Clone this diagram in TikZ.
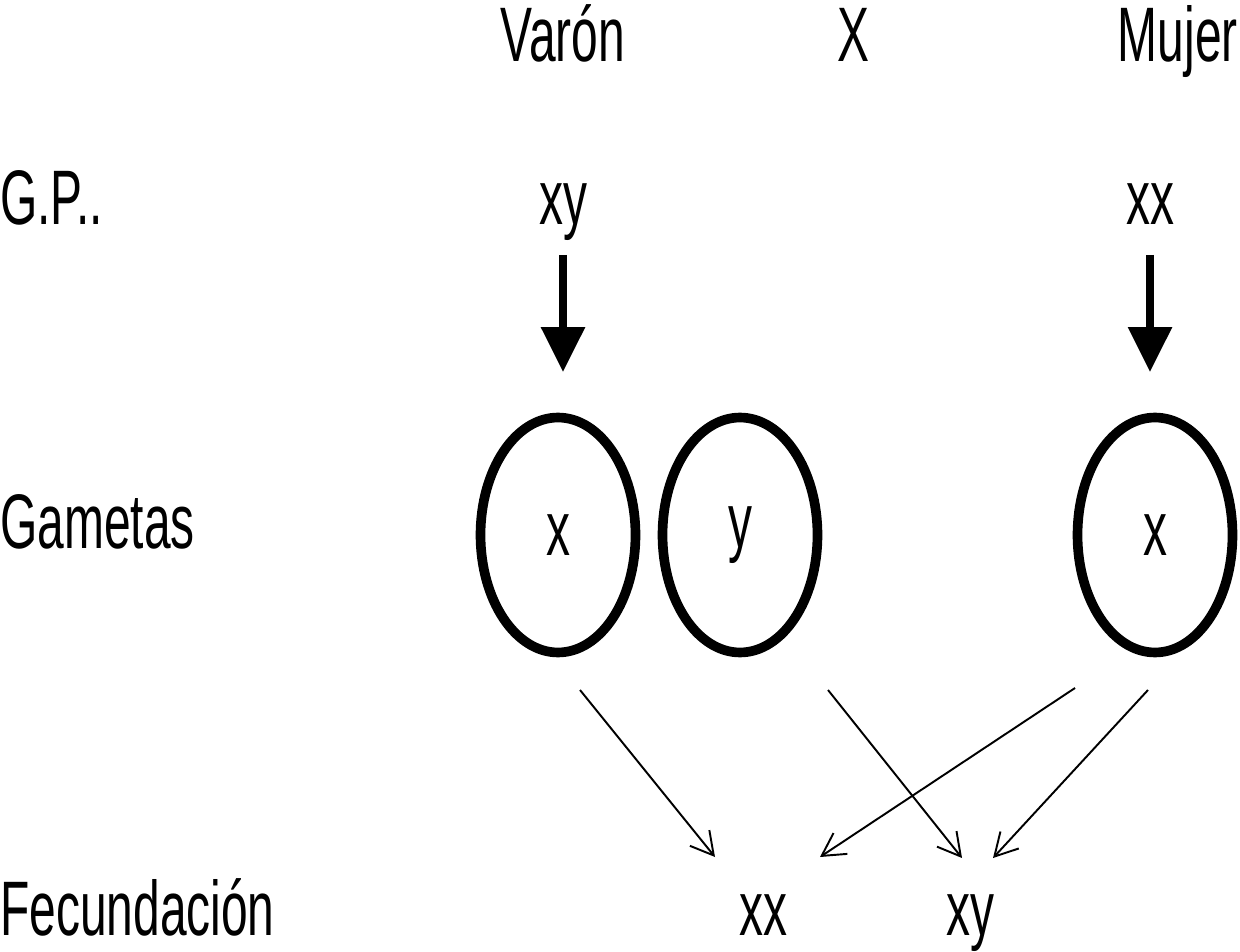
\documentclass[tikz,border=0pt]{standalone}
\usepackage{fontspec}
\setmainfont{Liberation Sans}
\usetikzlibrary{arrows.meta,shapes.geometric}
\begin{document}
\begin{tikzpicture}[x=0.02cm,y=-0.02cm,
  lab/.style={font=\fontsize{44}{48}\selectfont,xscale=0.62,inner sep=0,anchor=base},
  gam/.style={draw,line width=5.5pt,ellipse,minimum width=3.1cm,minimum height=4.7cm,inner sep=0,font=\fontsize{44}{48}\selectfont},
  big/.style={line width=4.5pt,-{Triangle[length=0.9cm,width=0.85cm]}},
  thin/.style={line width=1.1pt,-{Straight Barb[length=0.45cm,width=0.5cm]}}]
\useasboundingbox (0,0) rectangle (1240,952);
\node[lab] (varon) at (563,62) {Varón};
\node[lab] (cross) at (853,62) {X};
\node[lab,anchor=base east] (mujer) at (1238,62) {Mujer};
\node[lab,anchor=base west] (gp) at (0,225) {G.P..};
\node[lab] (pxy) at (563,225) {xy};
\node[lab] (pxx) at (1150,225) {xx};
\node[lab,anchor=base west] (gametas) at (0,548) {Gametas};
\node[lab,anchor=base west] (fec) at (0,935) {Fecundación};
\node[lab] (fxx) at (763,935) {xx};
\node[lab] (fxy) at (970,935) {xy};
\node[gam] (gx) at (558,535) {\scalebox{0.62}[1]{x}};
\node[gam] (gy) at (740,535) {\scalebox{0.62}[1]{y}};
\node[gam] (gm) at (1155,535) {\scalebox{0.62}[1]{x}};
\coordinate (a1) at (563,255); \coordinate (a2) at (563,372);
\coordinate (b1) at (1150,255); \coordinate (b2) at (1150,372);
\draw[big] (a1) -- (a2);
\draw[big] (b1) -- (b2);
\coordinate (e1) at (715,857); \coordinate (e2) at (820,857);
\coordinate (e3) at (962,858); \coordinate (e4) at (993,858);
\coordinate (s1) at (580,690); \coordinate (s2) at (828,690);
\coordinate (s3) at (1075,688); \coordinate (s4) at (1148,690);
\draw[thin] (s1) -- (e1);
\draw[thin] (s2) -- (e3);
\draw[thin] (s3) -- (e2);
\draw[thin] (s4) -- (e4);
\end{tikzpicture}
\end{document}
